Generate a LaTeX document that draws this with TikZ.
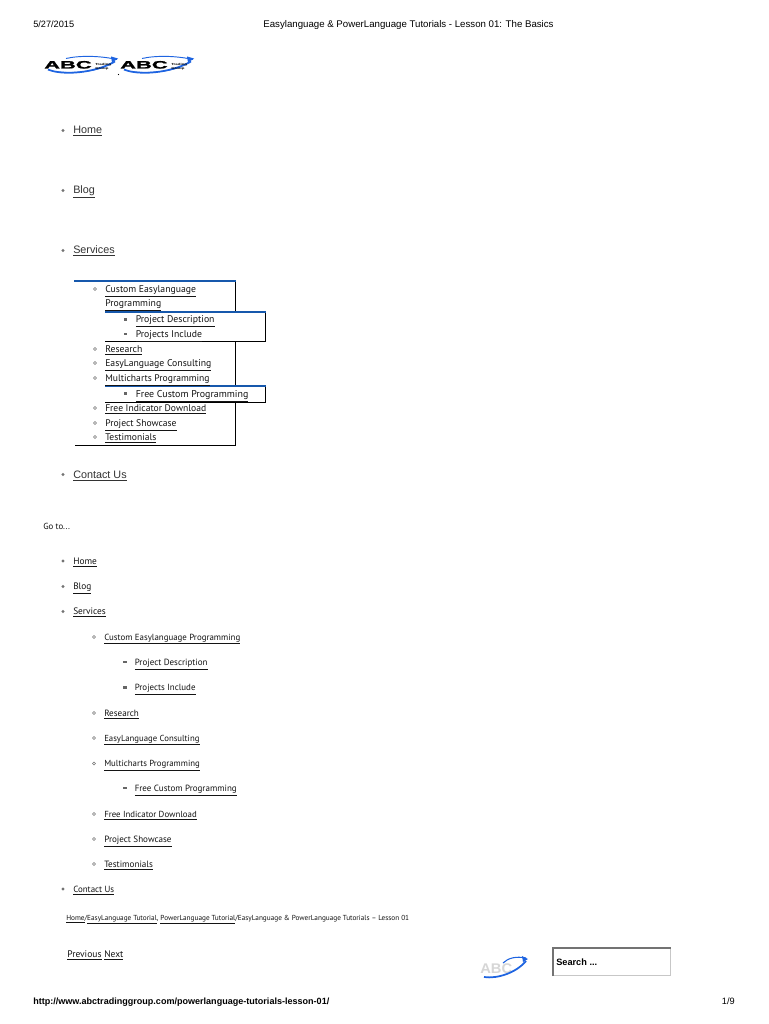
\documentclass[tikz,border=0pt]{standalone}
\usepackage{fontspec}
\setmainfont{PT Sans}
\newfontfamily\hdr{Liberation Sans}
\newfontfamily\logofont[FakeBold=1.5]{Liberation Sans Bold}
\definecolor{barblue}{RGB}{22,88,172}
\definecolor{swblue}{RGB}{30,100,225}
\tikzset{
 x=0.75pt,y=-0.75pt,
 txt/.style={inner sep=0pt,anchor=base west,text=black!92,font=\fontsize{#1pt}{8pt}\selectfont},
 txt/.default=7,
 big/.style={inner sep=0pt,anchor=base west,text=black!80,font=\hdr\fontsize{8.1pt}{9pt}\selectfont},
 head/.style={inner sep=0pt,anchor=base,text=black,font=\hdr\fontsize{7.25pt}{8pt}\selectfont},
 disc/.style={circle,fill=black!55,inner sep=0pt,minimum size=2.4pt},
 ring/.style={circle,draw=black!55,line width=0.35pt,inner sep=0pt,minimum size=2.2pt},
 sq/.style={rectangle,fill=black!60,inner sep=0pt,minimum width=2.3pt,minimum height=2pt},
 menu/.style={line width=0.7pt,black},
 top/.style={line width=1.5pt,color=barblue},
 swoosh/.style={line width=0.9pt,color=swblue},
 logo/.style={inner sep=0pt,anchor=base west,font=\logofont\fontsize{8pt}{8pt}\selectfont},
}
\newcommand{\ul}[1]{\underline{#1}}
\newcommand{\logoAt}[3]{%
 \coordinate (#1) at (#2,#3);
 \draw[swoosh,line width=1.3pt] ([shift={(4,1)}]#1) .. controls ([shift={(18,7)}]#1) and ([shift={(50,5)}]#1) .. ([shift={(71,-7)}]#1);
 \draw[swoosh,line width=0.6pt] ([shift={(11,3)}]#1) .. controls ([shift={(25,5)}]#1) and ([shift={(46,4)}]#1) .. ([shift={(62,-2)}]#1);
 \draw[swoosh,line width=0.7pt] ([shift={(22,-10)}]#1) .. controls ([shift={(35,-13)}]#1) and ([shift={(55,-13)}]#1) .. ([shift={(73,-9)}]#1);
 \fill[swblue] ([shift={(74,-10)}]#1) -- ([shift={(67,-12)}]#1) -- ([shift={(68,-6)}]#1) -- cycle;
 \node[logo] (#1t) at (#1) {\scalebox{2.05}[1]{ABC}};
 \node[inner sep=0pt,font=\hdr\bfseries\fontsize{2.2pt}{3pt}\selectfont,anchor=base west] (#1s) at ([shift={(51,-3)}]#1) {\scalebox{1.5}[1]{Trading}};
 \node[inner sep=0pt,font=\hdr\bfseries\fontsize{2.2pt}{3pt}\selectfont,anchor=base west] (#1u) at ([shift={(51,1)}]#1) {\scalebox{1.5}[1]{Group}};
}
\begin{document}
\begin{tikzpicture}
\useasboundingbox[fill=white] (0,0) rectangle (768,1024);
% page header/footer
\node[inner sep=0pt,anchor=base west,font=\hdr\fontsize{6.9pt}{8pt}\selectfont] (date) at (33,27.5) {5/27/2015};
\node[head] (title) at (408.5,27.5) {Easylanguage \& PowerLanguage Tutorials - Lesson 01: The Basics};
\node[inner sep=0pt,anchor=base west,font=\hdr\bfseries\fontsize{6.78pt}{8pt}\selectfont] (url) at (33,1004) {http://www.abctradinggroup.com/powerlanguage-tutorials-lesson-01/};
\node[inner sep=0pt,anchor=base east,font=\hdr\fontsize{6.9pt}{8pt}\selectfont] (pg) at (735,1004) {1/9};
% logos
\logoAt{la}{44}{68.5}
\logoAt{lb}{120}{68.5}
\fill (118.5,74.5) circle (0.6);
% top menu
\node[disc] (b1) at (63,130.5) {}; \node[big] (m1) at (73,133) {\ul{Home}};
\node[disc] (b2) at (63,190.5) {}; \node[big] (m2) at (73,193) {\ul{Blog}};
\node[disc] (b3) at (63,250.5) {}; \node[big] (m3) at (73,253) {\ul{Services}};
\node[disc] (b4) at (63,474.5) {}; \node[big] (m4) at (73,478) {\ul{Contact Us}};
% dropdown boxes
\draw[menu] (235,281) -- (235,311);
\draw[menu] (235,342) -- (235,385);
\draw[menu] (235,402) -- (235,445) -- (75,445);
\draw[menu] (265.5,312) -- (265.5,341.5) -- (105,341.5);
\draw[menu] (265.5,386) -- (265.5,402) -- (105,402);
\draw[top] (74,280.5) -- (235.5,280.5);
\draw[top] (105,311.5) -- (266,311.5);
\draw[top] (105,385.5) -- (266,385.5);
% dropdown entries
\foreach \n/\y in {a/289,b/349,c/363,d/378,e/408,f/423,g/437}{\node[ring] (r\n) at (95,\y) {};}
\foreach \n/\y in {a/319.5,b/334,c/393.5}{\node[sq] (s\n) at (125.5,\y) {};}
\node[txt=7.3] (d1) at (105,292) {\ul{Custom Easylanguage}};
\node[txt=7.3] (d2) at (105,306) {\ul{Programming}};
\node[txt=7.3] (d3) at (135.5,322.5) {\ul{Project Description}};
\node[txt=7.3] (d4) at (135.5,337) {\ul{Projects Include}};
\node[txt=7.3] (d5) at (105,352) {\ul{Research}};
\node[txt=7.3] (d6) at (105,366.5) {\ul{EasyLanguage Consulting}};
\node[txt=7.2] (d7) at (105,381) {\ul{Multicharts Programming}};
\node[txt=7.45] (d8) at (135.5,397) {\ul{Free Custom Programming}};
\node[txt=7.2] (d9) at (105,411) {\ul{Free Indicator Download}};
\node[txt=7.2] (d10) at (105,426) {\ul{Project Showcase}};
\node[txt=7.2] (d11) at (105,440.5) {\ul{Testimonials}};
% go to
\node[txt=6.6] (go) at (43,529.5) {Go to...};
% second menu
\foreach \n/\y in {a/561,b/586.5,c/611.5,d/889}{\node[disc] (e\n) at (63,\y) {};}
\node[txt] (n1) at (73,564) {\ul{Home}};
\node[txt] (n2) at (73,589.5) {\ul{Blog}};
\node[txt] (n3) at (73,614.5) {\ul{Services}};
\foreach \n/\y in {a/637,b/713,c/738,d/763.5,e/814,f/839,g/864}{\node[ring] (t\n) at (94,\y) {};}
\foreach \n/\y in {a/662,b/687.5,c/788}{\node[sq] (u\n) at (125,\y) {};}
\node[txt=6.65] (n4) at (104,640) {\ul{Custom Easylanguage Programming}};
\node[txt=6.75] (n5) at (134.5,665) {\ul{Project Description}};
\node[txt=6.7] (n6) at (134.5,690.5) {\ul{Projects Include}};
\node[txt=6.8] (n7) at (104,716) {\ul{Research}};
\node[txt=6.55] (n8) at (104,741) {\ul{EasyLanguage Consulting}};
\node[txt=6.6] (n9) at (104,766.5) {\ul{Multicharts Programming}};
\node[txt=6.75] (n10) at (134.5,791) {\ul{Free Custom Programming}};
\node[txt=6.6] (n11) at (104,817) {\ul{Free Indicator Download}};
\node[txt=6.8] (n12) at (104,842) {\ul{Project Showcase}};
\node[txt=6.85] (n13) at (104,867) {\ul{Testimonials}};
\node[txt=6.7] (n14) at (73,892) {\ul{Contact Us}};
% breadcrumb
\node[txt=5.45] (bc) at (66,920) {\ul{Home}/\ul{EasyLanguage Tutorial}, \ul{PowerLanguage Tutorial}/EasyLanguage \& PowerLanguage Tutorials -- Lesson 01};
\node[txt=7.15] (pv) at (67,957.5) {\ul{Previous}};
\node[txt=7.15] (nx) at (104,957.5) {\ul{Next}};
% footer logo
\node[inner sep=0pt,anchor=base west,font=\hdr\bfseries\fontsize{10.5pt}{12pt}\selectfont,text=black!16] (flt) at (480,973) {\scalebox{1.05}[1]{ABC}};
\draw[swoosh,line width=1.3pt] (484,977) .. controls (497,979) and (516,973) .. (526,961);
\draw[swoosh,line width=0.8pt] (503,963) .. controls (508,958) and (516,956) .. (526,958);
\fill[swblue] (528,959) -- (522,956) -- (523,962) -- cycle;
% search box
\node[draw=black!22,line width=0.8pt,minimum width=87.75pt,minimum height=20.25pt,inner sep=0pt,anchor=north west] (sb) at (553,948) {};
\draw[black!55,line width=0.8pt] (sb.south west) -- (sb.north west) -- (sb.north east);
\node[inner sep=0pt,anchor=base west,font=\hdr\bfseries\fontsize{6.9pt}{8pt}\selectfont] (st) at (556,965) {Search ...};
\end{tikzpicture}
\end{document}
